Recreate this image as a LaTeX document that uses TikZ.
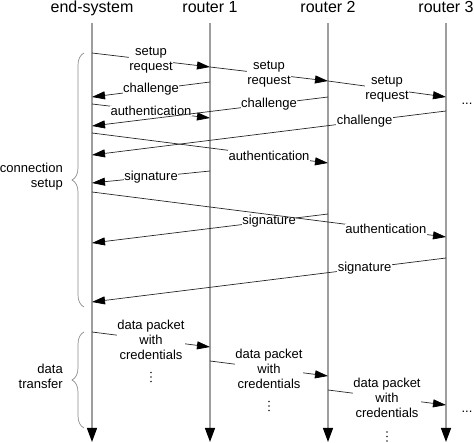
\documentclass[tikz,border=0pt]{standalone}
\usepackage{fontspec}
\setmainfont{Liberation Sans}
\usetikzlibrary{arrows.meta,decorations.pathreplacing}
\begin{document}
\begin{tikzpicture}[x=1pt,y=-1pt,
  title/.style={font=\fontsize{16}{18}\selectfont, anchor=base, inner sep=0pt},
  life/.style={draw=black!38, line width=1.3pt, -{Triangle[length=14pt,width=10pt,color=black]}},
  msg/.style={draw=black!85, line width=0.7pt, -{Triangle[length=13pt,width=8pt,color=black]}},
  lbl/.style={fill=white, inner sep=0.6pt, font=\fontsize{13}{15}\selectfont, align=center},
  side/.style={font=\fontsize{13}{15}\selectfont, align=right, anchor=east, inner sep=0pt},
  brc/.style={draw=black!45, line width=0.7pt, decorate, decoration={brace, amplitude=12pt}},
  hdot/.style={font=\fontsize{13}{15}\selectfont, inner sep=0pt},
  dotmark/.style={fill=black!85, draw=none},
]
\useasboundingbox (0,0) rectangle (474,443);
% titles
\node[title] (tE) at (92,12.5) {end-system};
\node[title] (t1) at (210,12.5) {router 1};
\node[title] (t2) at (328,12.5) {router 2};
\node[title] (t3) at (446,12.5) {router 3};
% lifelines
\coordinate (Etop) at (92,23);  \coordinate (Ebot) at (92,442);
\coordinate (Atop) at (210,23); \coordinate (Abot) at (210,442);
\coordinate (Btop) at (328,23); \coordinate (Bbot) at (328,442);
\coordinate (Ctop) at (446,23); \coordinate (Cbot) at (446,442);
\draw[life] (Etop) -- (Ebot);
\draw[life] (Atop) -- (Abot);
\draw[life] (Btop) -- (Bbot);
\draw[life] (Ctop) -- (Cbot);
% message end points
\coordinate (s1a) at (92,53);  \coordinate (s1b) at (210,67);
\coordinate (s2a) at (210,67); \coordinate (s2b) at (328,81);
\coordinate (s3a) at (328,81); \coordinate (s3b) at (446,97);
\coordinate (c1a) at (210,82); \coordinate (c1b) at (92,97);
\coordinate (a1a) at (92,104); \coordinate (a1b) at (210,118);
\coordinate (c2a) at (328,97); \coordinate (c2b) at (92,126);
\coordinate (c3a) at (446,111); \coordinate (c3b) at (92,155);
\coordinate (a2a) at (92,133); \coordinate (a2b) at (328,163);
\coordinate (g1a) at (210,171); \coordinate (g1b) at (92,183);
\coordinate (g2a) at (328,214); \coordinate (g2b) at (92,243);
\coordinate (a3a) at (92,192); \coordinate (a3b) at (446,237);
\coordinate (g3a) at (446,258); \coordinate (g3b) at (92,302);
\coordinate (d1a) at (92,332); \coordinate (d1b) at (210,347);
\coordinate (d2a) at (210,361); \coordinate (d2b) at (328,376);
\coordinate (d3a) at (328,390); \coordinate (d3b) at (446,405);
% messages
\draw[msg] (s1a) -- node[lbl] (ls1) {setup\\request} (s1b);
\draw[msg] (s2a) -- node[lbl] (ls2) {setup\\request} (s2b);
\draw[msg] (s3a) -- node[lbl] (ls3) {setup\\request} (s3b);
\draw[msg] (c1a) -- node[lbl] (lc1) {challenge} (c1b);
\draw[msg] (a1a) -- node[lbl] (la1) {authentication} (a1b);
\draw[msg] (c2a) -- node[lbl,pos=0.25] (lc2) {challenge} (c2b);
\draw[msg] (c3a) -- node[lbl,pos=0.23] (lc3) {challenge} (c3b);
\draw[msg] (a2a) -- node[lbl,pos=0.75] (la2) {authentication} (a2b);
\draw[msg] (g1a) -- node[lbl] (lg1) {signature} (g1b);
\draw[msg] (g2a) -- node[lbl,pos=0.25] (lg2) {signature} (g2b);
\draw[msg] (a3a) -- node[lbl,pos=0.83] (la3) {authentication} (a3b);
\draw[msg] (g3a) -- node[lbl,pos=0.23] (lg3) {signature} (g3b);
\draw[msg] (d1a) -- node[lbl] (ld1) {data packet\\with\\credentials} (d1b);
\draw[msg] (d2a) -- node[lbl] (ld2) {data packet\\with\\credentials} (d2b);
\draw[msg] (d3a) -- node[lbl] (ld3) {data packet\\with\\credentials} (d3b);
% continuation dots (vertical)
\foreach \cx/\cy in {151/377, 269/406, 387/436.5}{
  \foreach \dy in {-4.5,0,4.5}{
    \fill[dotmark] (\cx,\cy+\dy) circle (0.9pt);
  }
}
% continuation dots (horizontal)
\node[hdot] (h1) at (467,104) {...};
\node[hdot] (h2) at (467,412) {...};
% braces
\coordinate (b1bot) at (84,307); \coordinate (b1top) at (84,53);
\coordinate (b2bot) at (84,428); \coordinate (b2top) at (84,332);
\draw[brc] (b1bot) -- (b1top);
\draw[brc] (b2bot) -- (b2top);
\node[side] (cs) at (63,177) {connection\\setup};
\node[side] (dt) at (63,376) {data\\transfer};
\end{tikzpicture}
\end{document}
